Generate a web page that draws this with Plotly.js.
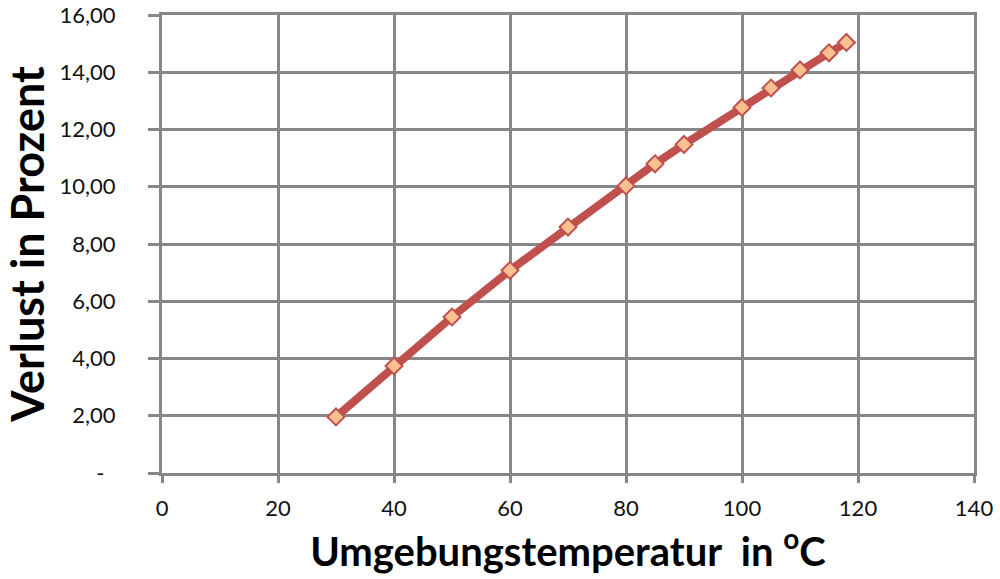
<!DOCTYPE html>
<html>
<head>
<meta charset="utf-8">
<script src="https://cdn.plot.ly/plotly-3.0.1.min.js"></script>
<style>html,body{margin:0;padding:0;background:#fff;}#chart{width:1000px;height:579px;}</style>
</head>
<body>
<div id="chart"></div>
<script>
var temperatures = [30, 40, 50, 60, 70, 80, 85, 90, 100, 105, 110, 115, 118];
var lossPercent = [1.96, 3.74, 5.45, 7.08, 8.59, 10.03, 10.80, 11.48, 12.77, 13.45, 14.08, 14.68, 15.04];
var yTickValues = [0, 2, 4, 6, 8, 10, 12, 14, 16];
var yTickLabels = ["-\u00A0\u00A0", "2,00", "4,00", "6,00", "8,00", "10,00", "12,00", "14,00", "16,00"];
var xTickValues = [0, 20, 40, 60, 80, 100, 120, 140];

var gridGray = "#878787";
var trace = {
  x: temperatures,
  y: lossPercent,
  type: "scatter",
  mode: "lines+markers",
  line: {color: "#C0504D", width: 8},
  marker: {symbol: "diamond", size: 13, color: "#FAC090", line: {color: "#C0504D", width: 2}},
  showlegend: false,
  hoverinfo: "x+y"
};

var layout = {
  width: 1000, height: 579,
  margin: {l: 162, r: 26, t: 15, b: 106},
  paper_bgcolor: "#fff", plot_bgcolor: "#fff",
  font: {family: "Lato, 'Open Sans', sans-serif", color: "#111"},
  xaxis: {
    range: [0, 140],
    tickvals: xTickValues,
    ticks: "outside", ticklen: 7, tickwidth: 3, tickcolor: gridGray,
    showgrid: true, gridcolor: gridGray, gridwidth: 3,
    showline: true, linecolor: gridGray, linewidth: 3, mirror: true,
    zeroline: false,
    tickfont: {size: 22, color: "#111"},
    ticklabelstandoff: 7,
    ticklabeloverflow: "allow",
    title: {text: "Umgebungstemperatur\u00A0\u00A0in <sup>o</sup>C", font: {size: 40, color: "#000", weight: 700}, standoff: 17}
  },
  yaxis: {
    range: [0, 16],
    tickvals: yTickValues,
    ticktext: yTickLabels,
    ticks: "outside", ticklen: 11, tickwidth: 3, tickcolor: gridGray,
    showgrid: true, gridcolor: gridGray, gridwidth: 3,
    showline: true, linecolor: gridGray, linewidth: 3, mirror: true,
    zeroline: false,
    tickfont: {size: 22, color: "#111"},
    ticklabelstandoff: 28,
    ticklabeloverflow: "allow",
    title: {text: "Verlust in Prozent", font: {size: 45, color: "#000", weight: 700}, standoff: 14}
  }
};

Plotly.newPlot("chart", [trace], layout, {displayModeBar: false, staticPlot: true});
</script>
</body>
</html>
